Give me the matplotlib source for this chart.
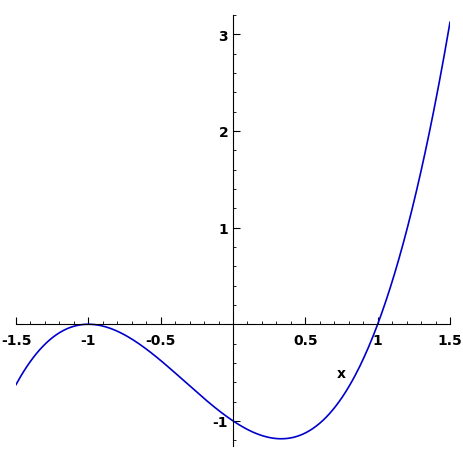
import numpy as np
import matplotlib
matplotlib.use("Agg")
import matplotlib.pyplot as plt
from matplotlib.ticker import MultipleLocator

# curve: y = (x-1)(x+1)^2 -> polynomial coefficients
coeffs = [1, 1, -1, -1]
x_range = [-1.5, 1.5]
xticks = [-1.5, -1, -0.5, 0.5, 1, 1.5]
xtick_labels = ["-1.5", "-1", "-0.5", "0.5", "1", "1.5"]
yticks = [-1, 1, 2, 3]
ytick_labels = ["-1", "1", "2", "3"]

fig = plt.figure(figsize=(4.64, 4.64), dpi=100)
l, r = 16/464, 450/464
ax = fig.add_axes([l, 1-447/464, r-l, (447-16)/464])
x = np.linspace(x_range[0], x_range[1], 400)
ax.plot(x, np.polyval(coeffs, x), color="#0000cc", lw=1.2)
ax.set_xlim(-1.5, 1.5)
ax.set_ylim(-1.26, 3.2)
for s in ["top", "right"]:
    ax.spines[s].set_visible(False)
ax.spines["left"].set_position(("data", 0))
ax.spines["bottom"].set_position(("data", 0))
ax.set_xticks(xticks)
ax.set_xticklabels(xtick_labels, fontsize=10, fontweight="bold")
ax.set_yticks(yticks)
ax.set_yticklabels(ytick_labels, fontsize=10, fontweight="bold")
ax.xaxis.set_minor_locator(MultipleLocator(0.1))
ax.yaxis.set_minor_locator(MultipleLocator(0.2))
ax.tick_params(which="major", length=5, direction="in")
ax.tick_params(which="minor", length=2.5, direction="in")
ax.tick_params(axis="x", pad=6)
ax.text(0.75, -0.5, "x", fontsize=10, fontweight="bold", ha="center", va="center")
fig.savefig("out.png", dpi=100)
